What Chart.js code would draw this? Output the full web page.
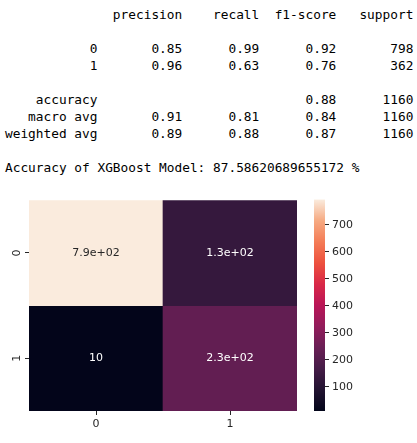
<!DOCTYPE html>
<html><head><meta charset="utf-8">
<script src="https://cdn.jsdelivr.net/npm/chart.js@4/dist/chart.umd.min.js"></script>
<style>
body{margin:0;background:#fff;width:417px;height:443px;overflow:hidden;position:relative}
pre{position:absolute;left:5px;top:6px;margin:0;font-family:"DejaVu Sans Mono",monospace;font-size:12.8px;line-height:17px;color:#000}
canvas{position:absolute}
</style></head><body>
<pre>              precision    recall  f1-score   support

           0       0.85      0.99      0.92       798
           1       0.96      0.63      0.76       362

    accuracy                           0.88      1160
   macro avg       0.91      0.81      0.84      1160
weighted avg       0.89      0.88      0.87      1160

Accuracy of XGBoost Model: 87.58620689655172 %</pre>
<div style="position:absolute;left:0;top:190px;width:300px;height:253px"><canvas id="hm"></canvas></div>
<div style="position:absolute;left:305px;top:190px;width:60px;height:253px"><canvas id="cb"></canvas></div>
<script>
const colLabels=['0','1'];
const rowLabels=['0','1'];
const row0=[793,130];
const row1=[10,230];
const cellText=[['7.9e+02','1.3e+02'],['10','2.3e+02']];
const cbTicks=[100,200,300,400,500,600,700];
const vmin=10, vmax=793;
const stops=[[0,[3,5,26]],[0.1,[34,19,49]],[0.2,[69,28,71]],[0.3,[105,31,85]],[0.4,[146,28,91]],[0.5,[185,22,87]],[0.6,[217,40,71]],[0.7,[237,81,62]],[0.8,[244,124,86]],[0.9,[246,170,130]],[1,[250,235,221]]];
function cmap(v){let t=(v-vmin)/(vmax-vmin);t=Math.max(0,Math.min(1,t));
for(let i=1;i<stops.length;i++){if(t<=stops[i][0]){const a=stops[i-1],b=stops[i],f=(t-a[0])/(b[0]-a[0]);
const c=a[1].map((x,k)=>Math.round(x+(b[1][k]-x)*f));return `rgb(${c[0]},${c[1]},${c[2]})`;}}return 'rgb(250,235,221)';}
Chart.defaults.font.family='"DejaVu Sans",sans-serif';
Chart.defaults.color='#262626';
const tickGrid={display:true,drawOnChartArea:false,drawTicks:true,tickLength:4,color:'#262626',offset:false};
const labelsPlugin={id:'lbl',afterDatasetsDraw(ch){const ctx=ch.ctx;ctx.save();ctx.font='11px "DejaVu Sans"';ctx.textAlign='center';ctx.textBaseline='middle';
[row0,row1].forEach((r,ri)=>{const meta=ch.getDatasetMeta(ri);meta.data.forEach((el,ci)=>{ctx.fillStyle=r[ci]>500?'#262626':'#ffffff';
ctx.fillText(cellText[ri][ci],el.x,(el.y+el.base)/2);});});
const ys=ch.scales.y;rowLabels.forEach((l,i)=>{ctx.save();ctx.translate(ys.right-12,ys.getPixelForValue(i+0.5));ctx.rotate(-Math.PI/2);ctx.fillStyle='#262626';ctx.fillText(l,0,0);ctx.restore();});
ctx.restore();}};
new Chart(document.getElementById('hm'),{type:'bar',
data:{labels:colLabels,datasets:[
{data:row0.map(()=>[0,1]),backgroundColor:row0.map(cmap),categoryPercentage:1,barPercentage:1,grouped:false,borderWidth:0},
{data:row1.map(()=>[1,2]),backgroundColor:row1.map(cmap),categoryPercentage:1,barPercentage:1,grouped:false,borderWidth:0}]},
options:{responsive:true,maintainAspectRatio:false,animation:false,layout:{padding:{top:4,right:3,left:0,bottom:0}},
plugins:{legend:{display:false},tooltip:{enabled:false}},
scales:{x:{grid:tickGrid,border:{display:false},ticks:{font:{size:11},padding:3},afterFit(s){s.height=32;}},
y:{type:'linear',reverse:true,min:0,max:2,grid:tickGrid,border:{display:false},afterBuildTicks(s){s.ticks=[{value:0.5},{value:1.5}];},ticks:{callback:()=>''},afterFit(s){s.width=29;}}}},
plugins:[labelsPlugin]});
const cbPlugin={id:'cbar',beforeDatasetsDraw(ch){const a=ch.chartArea,ctx=ch.ctx;const g=ctx.createLinearGradient(0,a.bottom,0,a.top);
stops.forEach(s=>g.addColorStop(s[0],`rgb(${s[1].join(',')})`));ctx.fillStyle=g;ctx.fillRect(a.left,a.top,a.right-a.left,a.bottom-a.top);}};
new Chart(document.getElementById('cb'),{type:'bar',data:{labels:[''],datasets:[{data:[vmin],backgroundColor:'rgba(0,0,0,0)'}]},
options:{responsive:true,maintainAspectRatio:false,animation:false,layout:{padding:{top:4,left:9,right:0,bottom:32}},
plugins:{legend:{display:false},tooltip:{enabled:false}},
scales:{x:{display:false},y:{position:'right',min:vmin,max:vmax,grid:tickGrid,border:{display:false},
afterBuildTicks(s){s.ticks=cbTicks.map(v=>({value:v}));},ticks:{font:{size:11},padding:3},afterFit(s){s.width=40;}}}},
plugins:[cbPlugin]});
</script></body></html>
